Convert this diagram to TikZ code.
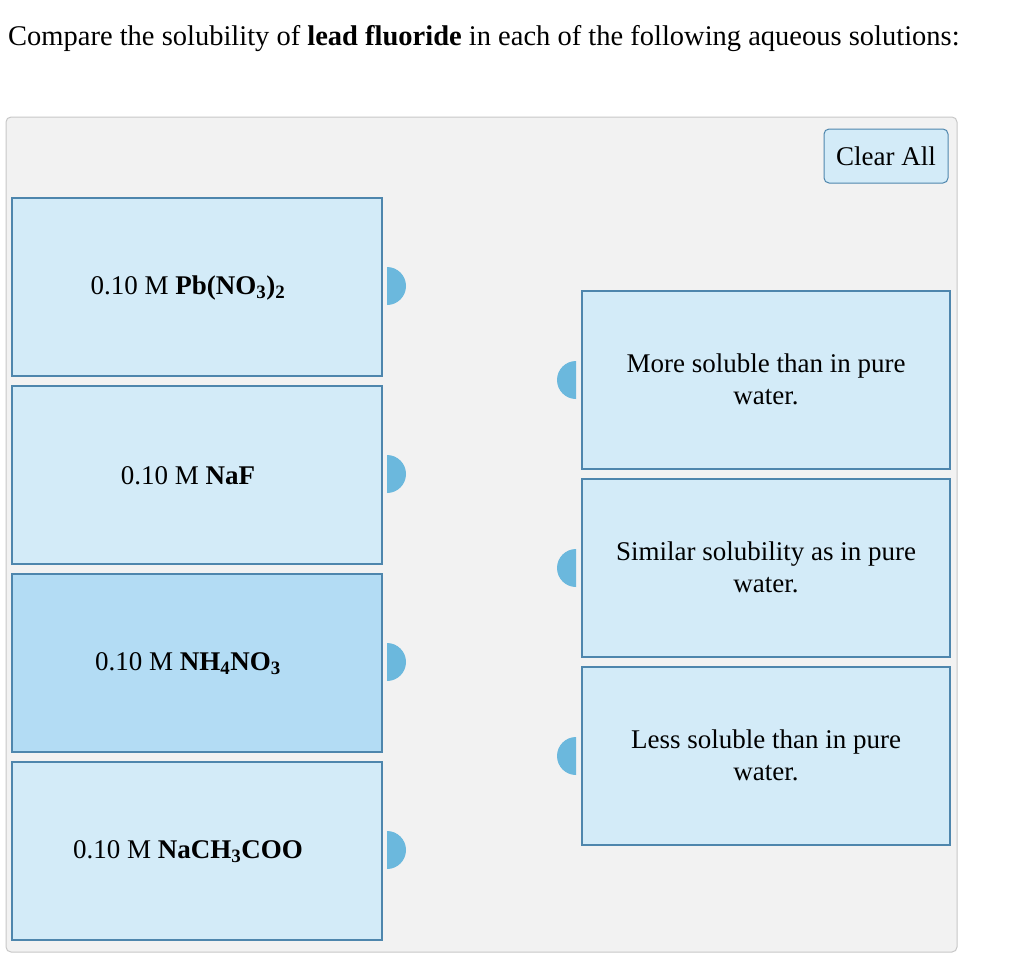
\documentclass[tikz,border=0pt]{standalone}
\usepackage{fontspec}
\setmainfont{Liberation Serif}
\begin{document}
\begin{tikzpicture}[x=1pt,y=-1pt,
  every node/.style={font=\fontsize{27}{32}\selectfont, inner sep=0pt},
  lbox/.style={draw=bordc, fill=boxc, line width=1.3pt}]
\definecolor{bgc}{HTML}{F2F2F2}
\definecolor{boxc}{HTML}{D3EBF8}
\definecolor{boxsel}{HTML}{B3DCF4}
\definecolor{bordc}{HTML}{4E86AD}
\definecolor{dotc}{HTML}{6BB8DD}
\useasboundingbox (0,0) rectangle (1024,977);
\node[anchor=base west, font=\fontsize{28.5}{32}\selectfont] (title) at (8,45) {Compare the solubility of \textbf{lead fluoride} in each of the following aqueous solutions:};
\draw[draw=black!22, fill=bgc, rounded corners=5pt, line width=1pt] (6,117) rectangle (957,952);
\node[draw=bordc, fill=boxc, rounded corners=5pt, line width=1pt, minimum width=124pt, minimum height=54pt] (clear) at (886,156) {Clear All};
% left boxes
\foreach \y/\n/\t/\c in {198/a/{0.10 M \textbf{Pb(NO\textsubscript{3})\textsubscript{2}}}/boxc,
  386/b/{0.10 M \textbf{NaF}}/boxc,
  574/c/{0.10 M \textbf{NH\textsubscript{4}NO\textsubscript{3}}}/boxsel,
  762/d/{0.10 M \textbf{NaCH\textsubscript{3}COO}}/boxc}{
  \draw[lbox, fill=\c] (12,\y) rectangle (382,\y+178);
  \node (\n) at (188,\y+90) {\t};
  \fill[dotc] (387,\y+69) arc[start angle=-90, end angle=90, radius=19] -- cycle;
}
% right boxes
\foreach \y/\n/\t in {291/r1/{More soluble than in pure\\water.},
  479/r2/{Similar solubility as in pure\\water.},
  667/r3/{Less soluble than in pure\\water.}}{
  \draw[lbox] (582,\y) rectangle (950,\y+178);
  \node[align=center] (\n) at (766,\y+88) {\t};
  \fill[dotc] (576,\y+70) arc[start angle=-90, end angle=-270, radius=19] -- cycle;
}
\end{tikzpicture}
\end{document}
